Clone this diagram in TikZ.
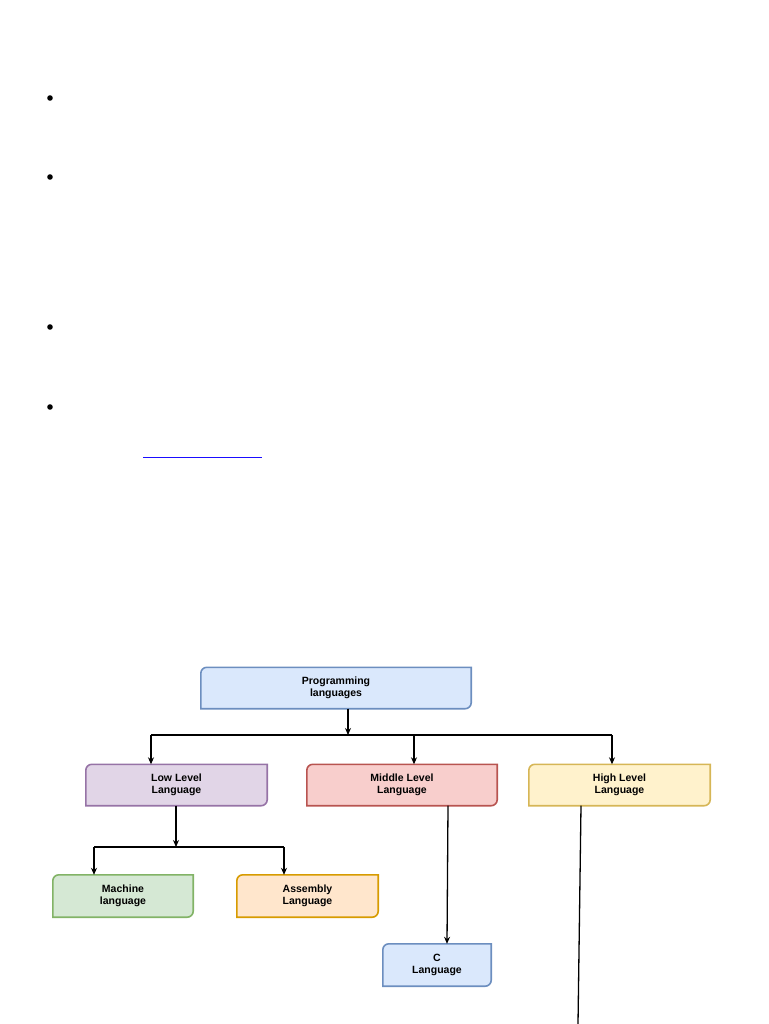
\documentclass[tikz,border=0pt]{standalone}
\usepackage{fontspec}
\setmainfont{Liberation Sans}
\usetikzlibrary{calc, arrows.meta}
\pgfdeclarelayer{background}
\pgfsetlayers{background,main}
\definecolor{blueF}{HTML}{DAE8FC}\definecolor{blueD}{HTML}{6C8EBF}
\definecolor{purpF}{HTML}{E1D5E7}\definecolor{purpD}{HTML}{9673A6}
\definecolor{redF}{HTML}{F8CECC}\definecolor{redD}{HTML}{B85450}
\definecolor{yelF}{HTML}{FFF2CC}\definecolor{yelD}{HTML}{D6B656}
\definecolor{grnF}{HTML}{D5E8D4}\definecolor{grnD}{HTML}{82B366}
\definecolor{orgF}{HTML}{FFE6CC}\definecolor{orgD}{HTML}{D79B00}
\definecolor{linkblue}{HTML}{1A0DFF}
\tikzset{
	box/.style={inner sep=0pt, align=center, font=\fontsize{10.5}{12.5}\selectfont\bfseries},
	conn/.style={line width=1.3pt},
	arr/.style={conn, -{Stealth[length=7pt,width=6pt]}}
}
\begin{document}
\begin{tikzpicture}[x=1pt,y=-1pt]
				\useasboundingbox (0,0) rectangle (768,1024);
				%Bullets and link
				\foreach \y in {98,177,327,407} {
					\fill (50,\y) circle (2.8);
				}
				\draw[linkblue, line width=0.8pt] (143,457) -- (262,457);
				%Boxes
				\node[box, minimum width=270, minimum height=41] (prog) at (336,688) {Programming\\languages};
				\node[box, minimum width=181, minimum height=41] (low) at (176.5,785) {Low Level\\Language};
				\node[box, minimum width=190, minimum height=41] (mid) at (402,785) {Middle Level\\Language};
				\node[box, minimum width=181, minimum height=41] (high) at (619.5,785) {High Level\\Language};
				\node[box, minimum width=140, minimum height=42] (mach) at (123,896) {Machine\\language};
				\node[box, minimum width=141, minimum height=42] (asm) at (307.5,896) {Assembly\\Language};
				\node[box, minimum width=108, minimum height=42] (clang) at (437,965) {C\\Language};
				%Outlines, rounded at top left and bottom right
				\begin{pgfonlayer}{background}
				\foreach \n/\c in {prog/blue,low/purp,mid/red,high/yel,mach/grn,asm/org,clang/blue} {
					\filldraw[fill=\c F, draw=\c D, line width=1.6pt]
						(\n.south west) [rounded corners=6pt] -- (\n.south east) [sharp corners] -- (\n.north east)
						[rounded corners=6pt] -- (\n.north west) [sharp corners] -- cycle;
				}
				\end{pgfonlayer}
				%Connectors
				\coordinate (bus) at (348,735);
				\coordinate (busL) at (151,735);
				\coordinate (busM) at (414,735);
				\coordinate (busR) at (612,735);
				\draw[arr] (prog.south -| bus) -- (bus);
				\draw[conn] (busL) -- (busR);
				\draw[arr] (busL) -- (busL |- low.north);
				\draw[arr] (busM) -- (busM |- mid.north);
				\draw[arr] (busR) -- (busR |- high.north);
				\coordinate (sub) at (176,847);
				\coordinate (subL) at (94,847);
				\coordinate (subR) at (284,847);
				\draw[arr] (low.south -| sub) -- (sub);
				\draw[conn] (subL) -- (subR);
				\draw[arr] (subL) -- (subL |- mach.north);
				\draw[arr] (subR) -- (subR |- asm.north);
				\draw[arr] ([xshift=11pt]clang.north |- mid.south) -- ([xshift=10pt]clang.north);
				\coordinate (hend) at (578,1024);
				\draw[conn] ([xshift=-38.5pt]high.south) -- (hend);
\end{tikzpicture}
\end{document}
